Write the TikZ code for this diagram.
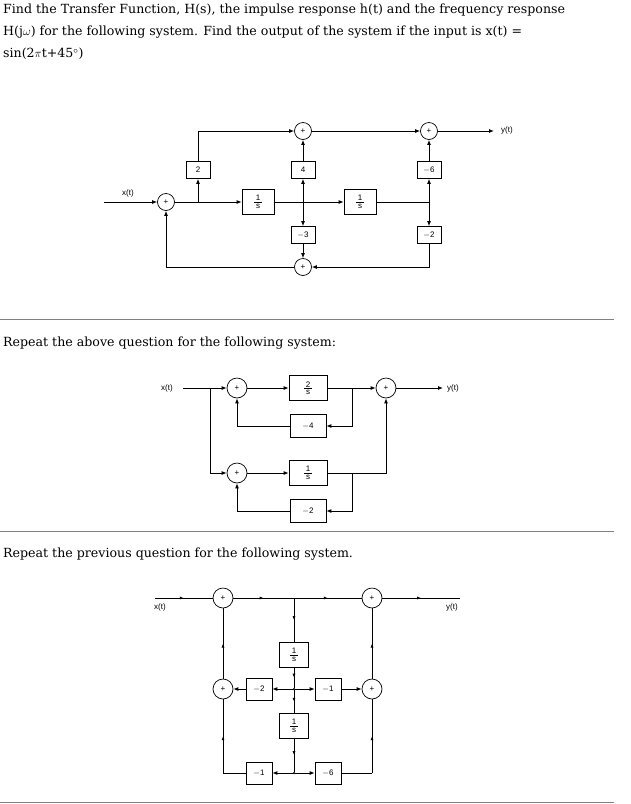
\documentclass[tikz,border=0pt]{standalone}
\usepackage{fontspec}
\setmainfont{DejaVu Serif}
\newfontfamily\dsans{Liberation Sans}
\usetikzlibrary{arrows.meta,decorations.markings}
\begin{document}
\begin{tikzpicture}[x=1pt,y=-1pt,
  ar/.style={-{Latex[length=5pt,width=4pt]},line width=0.9pt},
  ln/.style={line width=0.9pt},
  sm/.style={circle,draw,line width=0.7pt,minimum size=17pt,inner sep=0pt,font=\dsans\footnotesize},
  bx/.style={draw,line width=0.7pt,minimum width=24pt,minimum height=17pt,inner sep=1pt,font=\dsans\footnotesize},
  fb/.style={bx,minimum width=30pt,minimum height=23pt},
  lb/.style={font=\dsans\footnotesize,inner sep=1pt},
  txt/.style={anchor=west,font=\fontsize{12.6}{15}\selectfont,inner sep=0pt},
  dot/.style={circle,fill,inner sep=0pt,minimum size=2.5pt},
  mid/.style={postaction={decorate},decoration={markings,mark=at position 0.5 with {\arrow{Latex[length=4pt,width=3pt]}}}}]
\newcommand{\fr}[1]{\tikz[baseline=(f.base)]\node[inner sep=0pt,align=center,font=\dsans\footnotesize] (f) {\underline{\,#1\,}\\[-2pt]s};}
\useasboundingbox (0,0) rectangle (631,804);
% text
\node[txt] (t1) at (3,10) {Find the Transfer Function, H(s), the impulse response h(t) and the frequency response};
\node[txt] (t2) at (3,32) {H(j$\omega$) for the following system. Find the output of the system if the input is x(t) =};
\node[txt] (t3) at (3,54) {sin(2$\pi$t+45$^\circ$)};
\node[txt] (t4) at (3,343) {Repeat the above question for the following system:};
\node[txt] (t5) at (3,554) {Repeat the previous question for the following system.};
\draw[line width=0.6pt,gray] (0,319) -- (614,319);
\draw[line width=0.6pt,gray] (0,531) -- (614,531);
\draw[line width=0.6pt,gray] (0,802) -- (614,802);
% ---------- diagram 1
\coordinate (i1) at (104,202);
\node[lb] (xl1) at (128,193) {x(t)};
\node[sm] (s1) at (166,202) {+};
\node[sm] (sT1) at (303,131) {+};
\node[sm] (sT2) at (429,131) {+};
\node[sm] (sB) at (303,267) {+};
\coordinate (o1) at (494,131);
\node[lb,anchor=west] (yl1) at (500,130) {y(t)};
\node[bx] (g2) at (198,170) {2};
\node[bx] (g4) at (303,170) {4};
\node[bx] (g6) at (429,170) {$-$6};
\node[bx] (g3) at (303,235) {$-$3};
\node[bx] (gm2) at (429,235) {$-$2};
\node[fb] (a1) at (258,202) {\fr{1}};
\node[fb] (a2) at (360,202) {\fr{1}};
\coordinate (b1) at (198,202);
\coordinate (n1) at (303,202);
\coordinate (n2) at (429,202);
\draw[ar] (i1) -- (s1);
\draw[ln] (s1) -- (b1);
\draw[ar] (b1) -- (a1);
\draw[ar] (b1) -- (g2);
\draw[ar] (g2) |- (sT1);
\draw[ln] (a1) -- (n1);
\draw[ar] (n1) -- (a2);
\draw[ar] (n1) -- (g4);
\draw[ar] (g4) -- (sT1);
\draw[ar] (n1) -- (g3);
\draw[ar] (g3) -- (sB);
\draw[ar] (sT1) -- (sT2);
\draw[ar] (sT2) -- (o1);
\draw[ln] (a2) -- (n2);
\draw[ar] (n2) -- (g6);
\draw[ar] (g6) -- (sT2);
\draw[ar] (n2) -- (gm2);
\draw[ar] (gm2) |- (sB);
\draw[ar] (sB) -| (s1);
% ---------- diagram 2
\node[lb] (xl2) at (167,388) {x(t)};
\coordinate (i2) at (183,388);
\coordinate (b2) at (210,388);
\node[sm,minimum size=20pt] (p1) at (237,388) {+};
\node[sm,minimum size=20pt] (p2) at (237,473) {+};
\node[sm,minimum size=20pt] (p3) at (386,388) {+};
\node[fb,minimum width=36pt] (h1) at (308,388) {\fr{2}};
\node[fb,minimum width=36pt] (h2) at (308,473) {\fr{1}};
\node[fb,minimum width=36pt] (k1) at (308,426) {$-$4};
\node[fb,minimum width=36pt] (k2) at (308,511) {$-$2};
\coordinate (c1) at (352,388);
\coordinate (c2) at (352,473);
\coordinate (o2) at (443,388);
\node[lb,anchor=west] (yl2) at (446,388) {y(t)};
\draw[ln] (i2) -- (b2);
\draw[ar] (b2) -- (p1);
\draw[ar] (b2) |- (p2);
\draw[ar] (p1) -- (h1);
\draw[ar] (p2) -- (h2);
\draw[ln] (h1) -- (c1);
\draw[ar] (c1) -- (p3);
\draw[ar] (c1) |- (k1);
\draw[ar] (k1) -| (p1);
\draw[ar] (c2) |- (k2);
\draw[ar] (k2) -| (p2);
\draw[ar] (h2) -| (p3);
\draw[ar] (p3) -- (o2);
% ---------- diagram 3
\coordinate (i3) at (155,598);
\node[lb] (xl3) at (160,607) {x(t)};
\node[sm,minimum size=20pt] (q1) at (223,598) {+};
\node[sm,minimum size=20pt] (q2) at (372,598) {+};
\node[sm,minimum size=20pt] (q3) at (223,689) {+};
\node[sm,minimum size=20pt] (q4) at (372,689) {+};
\coordinate (o3) at (460,598);
\node[lb] (yl3) at (452,607) {y(t)};
\coordinate (m0) at (294,598);
\node[dot] (m1) at (294,689) {};
\node[dot] (m2) at (294,773) {};
\node[fb,minimum width=27pt] (r1) at (294,655) {\fr{1}};
\node[fb,minimum width=27pt] (r2) at (294,726) {\fr{1}};
\node[bx,minimum width=26pt,minimum height=22pt] (e1) at (259,689) {$-$2};
\node[bx,minimum width=26pt,minimum height=22pt] (e2) at (328,689) {$-$1};
\node[bx,minimum width=26pt,minimum height=22pt] (e3) at (259,773) {$-$1};
\node[bx,minimum width=26pt,minimum height=22pt] (e4) at (328,773) {$-$6};
\coordinate (d3) at (223,773);
\coordinate (d4) at (372,773);
\draw[ln,mid] (i3) -- (q1);
\draw[ln,mid] (q1) -- (m0);
\draw[ln,mid] (m0) -- (q2);
\draw[ln,mid] (q2) -- (o3);
\draw[ln,mid] (m0) -- (r1);
\draw[ln,mid] (r1) -- (m1);
\draw[ln,mid] (m1) -- (r2);
\draw[ln,mid] (r2) -- (m2);
\draw[ar] (m1) -- (e1);
\draw[ar] (e1) -- (q3);
\draw[ar] (m1) -- (e2);
\draw[ar] (e2) -- (q4);
\draw[ar] (m2) -- (e3);
\draw[ar] (m2) -- (e4);
\draw[ln] (e3) -- (d3);
\draw[ln] (e4) -- (d4);
\draw[ln,mid] (d3) -- (q3);
\draw[ln,mid] (d4) -- (q4);
\draw[ln,mid] (q3) -- (q1);
\draw[ln,mid] (q4) -- (q2);
\end{tikzpicture}
\end{document}
